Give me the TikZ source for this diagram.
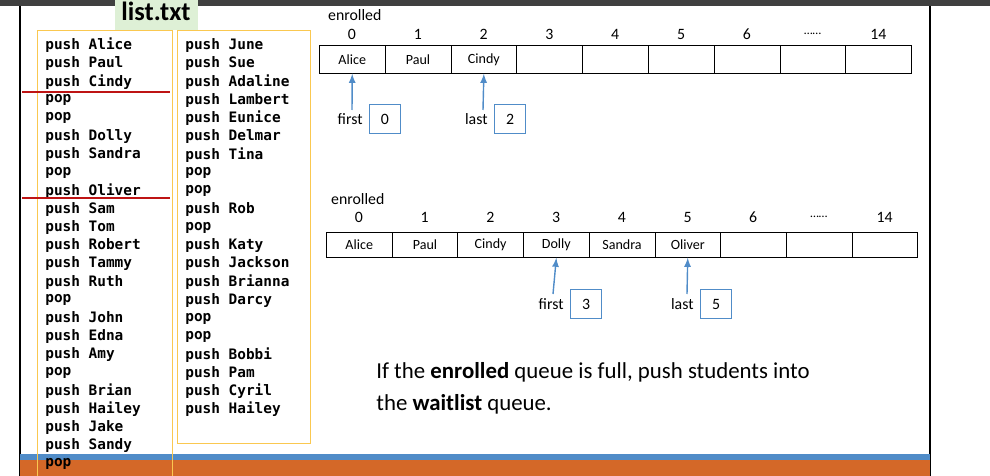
\documentclass[tikz,border=0pt]{standalone}
\usepackage{fontspec}
\setmainfont{Carlito}
\newfontfamily\codefont{DejaVu Sans Mono}
\usetikzlibrary{positioning}
\definecolor{qblue}{RGB}{80,140,200}
\definecolor{qorange}{RGB}{212,104,40}
\definecolor{qyellow}{RGB}{250,200,80}
\definecolor{qgreen}{RGB}{222,240,214}
\definecolor{qred}{RGB}{190,20,20}
\begin{document}
\begin{tikzpicture}[x=0.02cm, y=-0.02cm,
		cell/.style={draw, minimum width=1.316cm, minimum height=0.56cm, inner sep=0pt, font=\fontsize{8}{9}\selectfont, anchor=north west},
		idx/.style={font=\fontsize{9}{10}\selectfont},
		ptr/.style={draw=qblue, thick, minimum width=0.62cm, minimum height=0.58cm, inner sep=0pt, font=\fontsize{9}{10}\selectfont},
		code/.style={font=\codefont\bfseries\fontsize{8.2}{9}\selectfont, anchor=west, inner sep=0pt}]
	\useasboundingbox (0,0) rectangle (990,476);
	% frame and bars
	\fill[black!75] (0,0) rectangle (990,6);
	\draw[thick] (20,6) -- (20,476);
	\draw[thick] (930,6) -- (930,476);
	\fill[qblue] (20,454) rectangle (930,460);
	\fill[qorange] (20,460) rectangle (930,476);
	% list.txt
	\fill[qgreen] (115,0) rectangle (198,30);
	\node[font=\bfseries\fontsize{15}{16}\selectfont] (title) at (156,11) {list.txt};
	\draw[qyellow] (37,30) rectangle (172,478);
	\draw[qyellow] (177,30) rectangle (310,443);
	\foreach \t [count=\i from 0] in {push Alice,push Paul,push Cindy,pop,pop,push Dolly,push Sandra,pop,push Oliver,push Sam,push Tom,push Robert,push Tammy,push Ruth,pop,push John,push Edna,push Amy,pop,push Brian,push Hailey,push Jake,push Sandy,pop}
		\node[code] (la\i) at (45,{45.5+18.2*\i}) {\t};
	\foreach \t [count=\i from 0] in {push June,push Sue,push Adaline,push Lambert,push Eunice,push Delmar,push Tina,pop,pop,push Rob,pop,push Katy,push Jackson,push Brianna,push Darcy,pop,pop,push Bobbi,push Pam,push Cyril,push Hailey}
		\node[code] (lb\i) at (185,{45.5+18.2*\i}) {\t};
	\draw[qred, thick] (22,92) -- (170,92);
	\draw[qred, thick] (22,198) -- (170,198);
	% first queue
	\node[idx, anchor=west] (e1) at (322,15) {enrolled};
	\foreach \t [count=\i from 0] in {Alice,Paul,Cindy,,,,,,}
		\node[cell] (a\i) at ({319+65.8*\i},45) {\t};
	\foreach \t [count=\i from 0] in {0,1,2,3,4,5,6,\scriptsize……,14}
		\node[idx] (ia\i) at ({352+65.8*\i},34) {\t};
	\node[ptr] (f1) at (385,119) {0};
	\node[idx, left=0pt of f1] (f1l) {first};
	\node[ptr] (l1) at (510,119) {2};
	\node[idx, left=0pt of l1] (l1l) {last};
	\coordinate (f1c) at (352,110);
	\coordinate (l1c) at (483,110);
	\draw[-latex, qblue, thick] (f1c) -- (a0.south);
	\draw[-latex, qblue, thick] (l1c) -- (a2.south);
	% second queue
	\node[idx, anchor=west] (e2) at (325,199) {enrolled};
	\foreach \t [count=\i from 0] in {Alice,Paul,Cindy,Dolly,Sandra,Oliver,,,}
		\node[cell, minimum height=0.5cm] (b\i) at ({326+65.7*\i},232) {\t};
	\foreach \t [count=\i from 0] in {0,1,2,3,4,5,6,\scriptsize……,14}
		\node[idx] (ib\i) at ({359+65.7*\i},217) {\t};
	\node[ptr] (f2) at (586,304) {3};
	\node[idx, left=0pt of f2] (f2l) {first};
	\node[ptr] (l2) at (716,304) {5};
	\node[idx, left=0pt of l2] (l2l) {last};
	\coordinate (f2c) at (553,294);
	\coordinate (l2c) at (687,294);
	\draw[-latex, qblue, thick] (f2c) -- (b3.south);
	\draw[-latex, qblue, thick] (l2c) -- (b5.south);
	% note
	\node[anchor=north west, align=left, font=\fontsize{13}{18}\selectfont, inner sep=0pt] (note) at (376,362)
		{If the \textbf{enrolled} queue is full, push students into\\the \textbf{waitlist} queue.};
\end{tikzpicture}
\end{document}
